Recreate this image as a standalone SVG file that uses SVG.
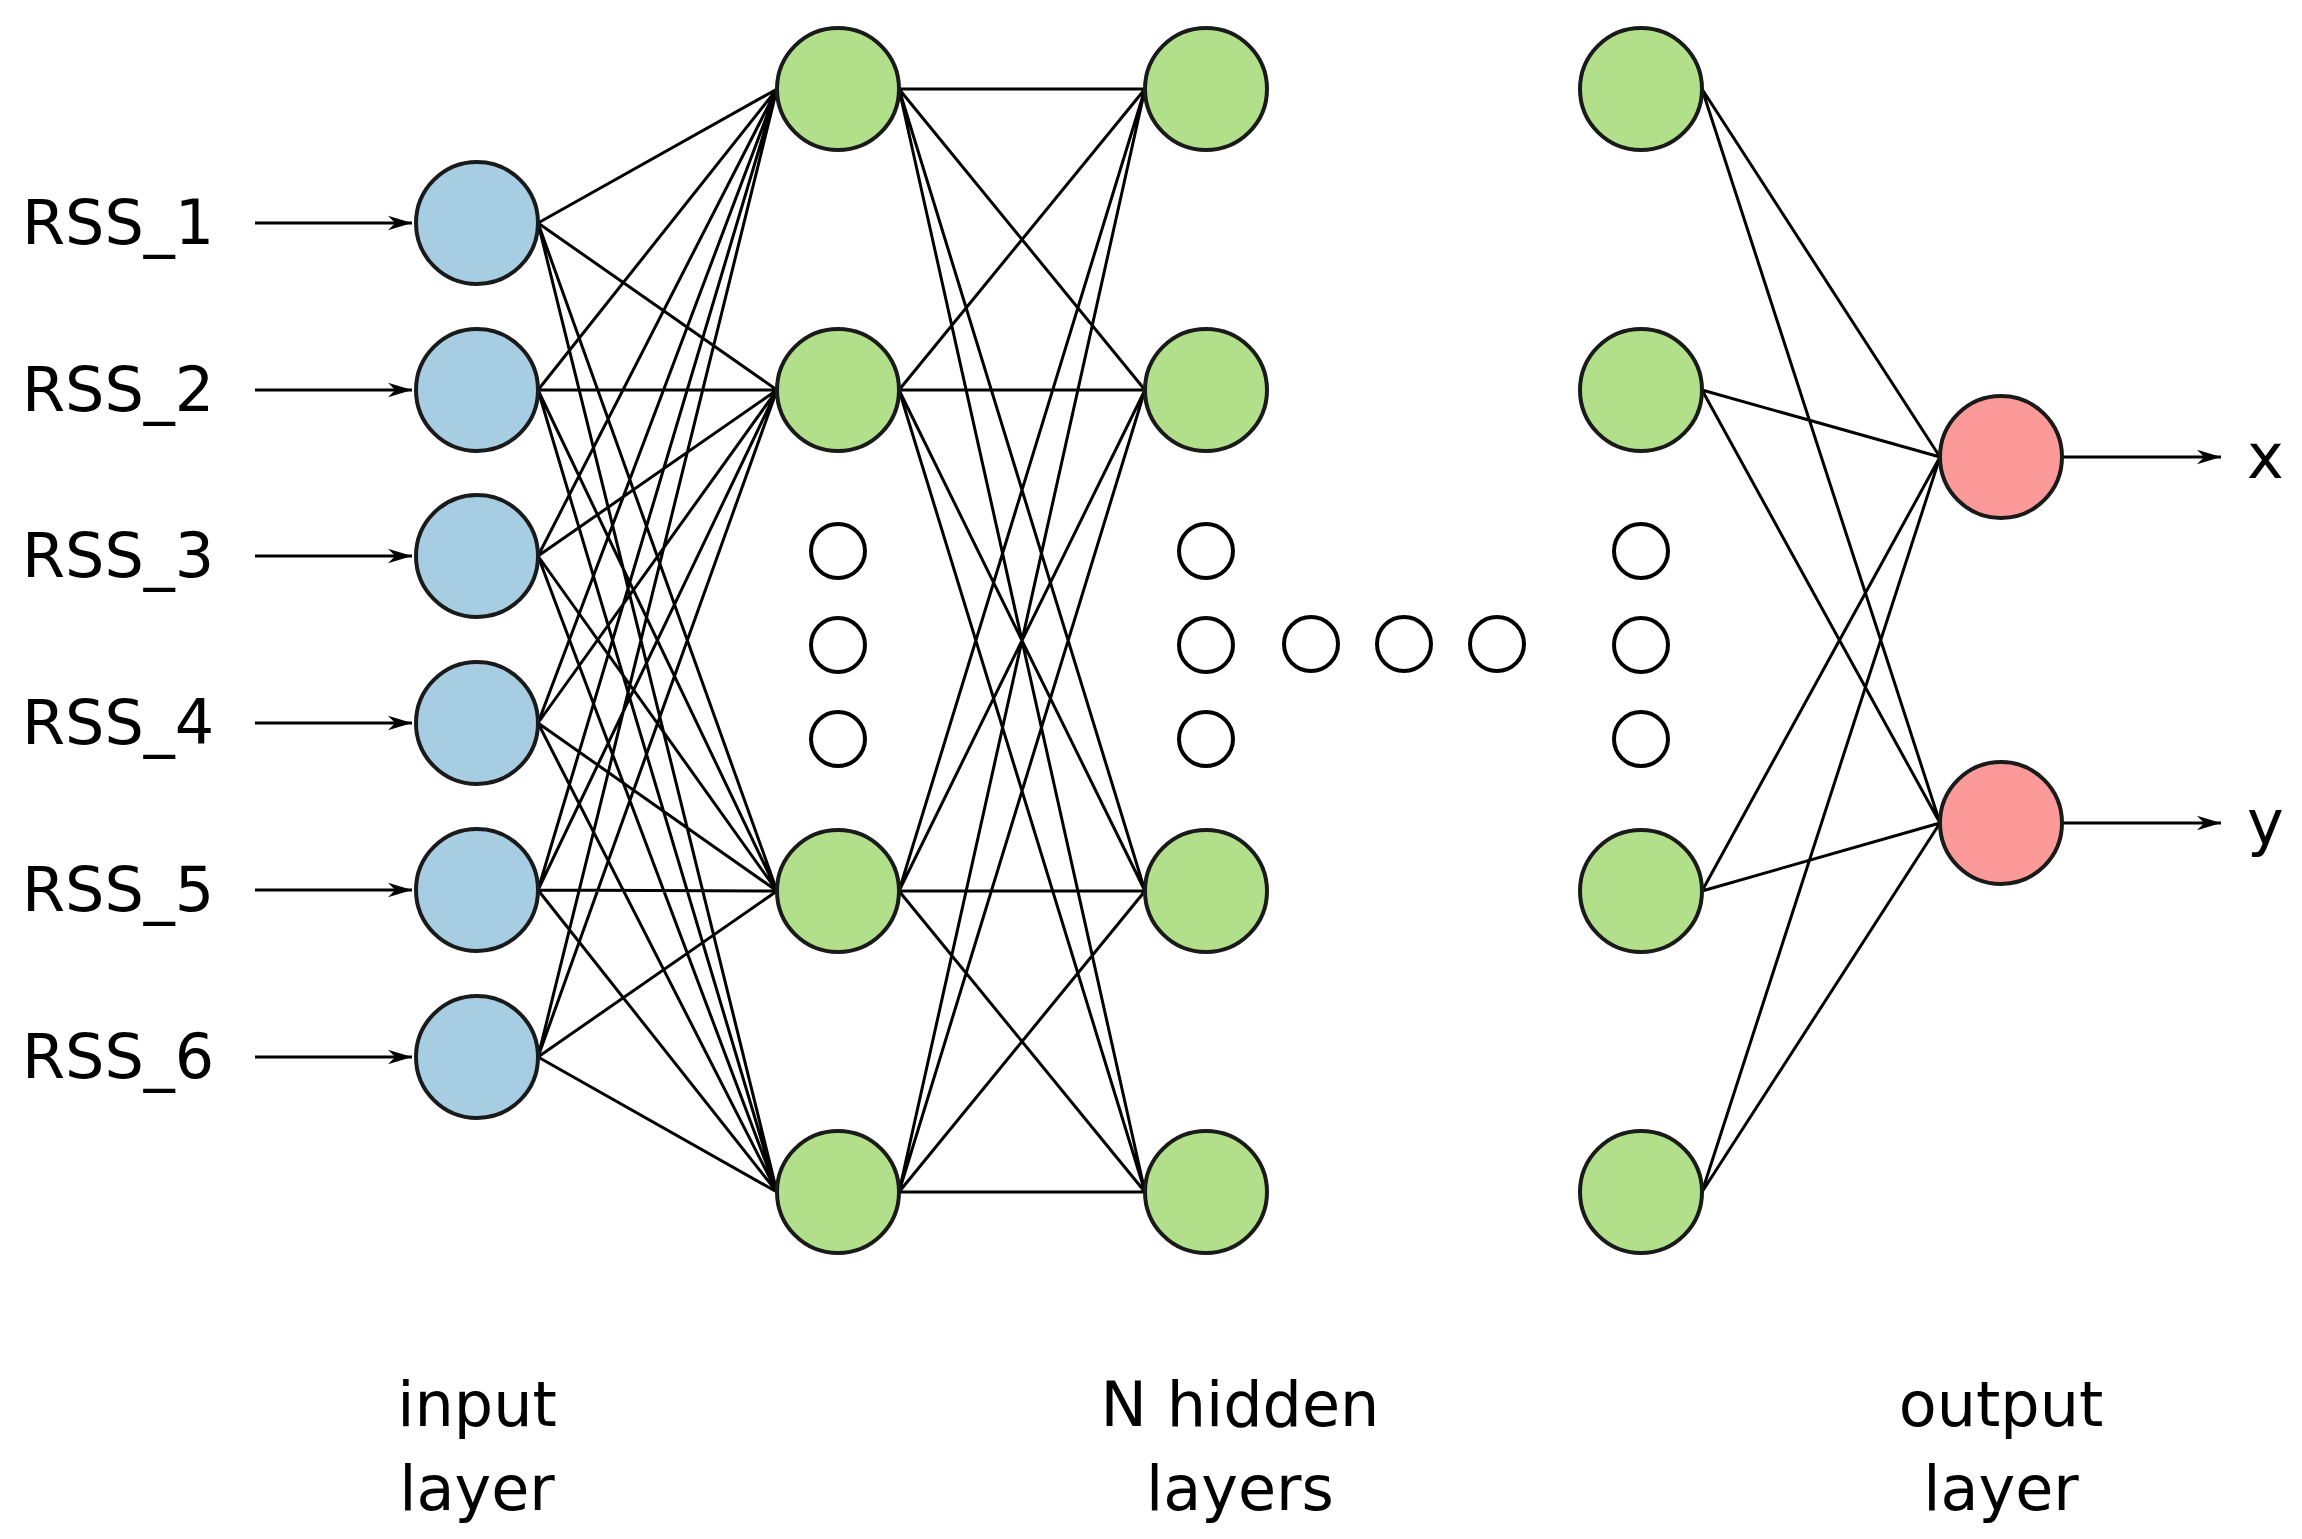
<svg xmlns="http://www.w3.org/2000/svg" width="2302" height="1539" viewBox="0 0 2302 1539">
<style>
.e{stroke:#000;stroke-width:3;fill:none}
.in{fill:#a6cde2;stroke:#1a1a1a;stroke-width:4}
.h{fill:#b2df8a;stroke:#1a1a1a;stroke-width:4}
.o{fill:#fb9a99;stroke:#1a1a1a;stroke-width:4}
.d{fill:#fff;stroke:#000;stroke-width:4}
text{font-family:"DejaVu Sans",Verdana,sans-serif;font-size:62px;fill:#000}
</style>
<defs><marker id="a" viewBox="0 0 10 10" refX="10" refY="5" markerWidth="8" markerHeight="8" markerUnits="userSpaceOnUse" orient="auto"><path d="M0,1 L10,5 L0,9 L3,5z" fill="#000"/></marker>
<marker id="b" viewBox="0 0 10 10" refX="10" refY="5" markerWidth="24" markerHeight="24" markerUnits="userSpaceOnUse" orient="auto"><path d="M0,2 L10,5 L0,8 L3,5z" fill="#000"/></marker></defs>
<g id="connectors">
<g class="e">
<path d="M538,223L777,89M538,223L777,390M538,223L777,891M538,223L777,1192
M538,390L777,89M538,390L777,390M538,390L777,891M538,390L777,1192
M538,556L777,89M538,556L777,390M538,556L777,891M538,556L777,1192
M538,723L777,89M538,723L777,390M538,723L777,891M538,723L777,1192
M538,890L777,89M538,890L777,390M538,890L777,891M538,890L777,1192
M538,1057L777,89M538,1057L777,390M538,1057L777,891M538,1057L777,1192"/>
<path d="M899,89L1145,89M899,89L1145,390M899,89L1145,891M899,89L1145,1192
M899,390L1145,89M899,390L1145,390M899,390L1145,891M899,390L1145,1192
M899,891L1145,89M899,891L1145,390M899,891L1145,891M899,891L1145,1192
M899,1192L1145,89M899,1192L1145,390M899,1192L1145,891M899,1192L1145,1192"/>
<path d="M1702,89L1940,457M1702,89L1940,823M1702,390L1940,457M1702,390L1940,823M1702,891L1940,457M1702,891L1940,823M1702,1192L1940,457M1702,1192L1940,823"/>
</g>
<g class="e">
<path d="M255,223H412" marker-end="url(#b)"/><path d="M255,390H412" marker-end="url(#b)"/><path d="M255,556H412" marker-end="url(#b)"/><path d="M255,723H412" marker-end="url(#b)"/><path d="M255,890H412" marker-end="url(#b)"/><path d="M255,1057H412" marker-end="url(#b)"/>
<path d="M2062,457H2221" marker-end="url(#b)"/><path d="M2062,823H2221" marker-end="url(#b)"/>
</g>
</g>
<g id="input">
<circle id="i1" class="in" cx="477" cy="223" r="61"/><circle id="i2" class="in" cx="477" cy="390" r="61"/><circle id="i3" class="in" cx="477" cy="556" r="61"/><circle id="i4" class="in" cx="477" cy="723" r="61"/><circle id="i5" class="in" cx="477" cy="890" r="61"/><circle id="i6" class="in" cx="477" cy="1057" r="61"/>
</g>
<g id="hidden1"><circle class="h" cx="838" cy="89" r="61"/><circle class="h" cx="838" cy="390" r="61"/><circle class="h" cx="838" cy="891" r="61"/><circle class="h" cx="838" cy="1192" r="61"/>
<circle class="d" cx="838" cy="551" r="27"/><circle class="d" cx="838" cy="645" r="27"/><circle class="d" cx="838" cy="739" r="27"/></g>
<g id="hidden2"><circle class="h" cx="1206" cy="89" r="61"/><circle class="h" cx="1206" cy="390" r="61"/><circle class="h" cx="1206" cy="891" r="61"/><circle class="h" cx="1206" cy="1192" r="61"/>
<circle class="d" cx="1206" cy="551" r="27"/><circle class="d" cx="1206" cy="645" r="27"/><circle class="d" cx="1206" cy="739" r="27"/></g>
<g id="dots"><circle class="d" cx="1311" cy="644" r="27"/><circle class="d" cx="1404" cy="644" r="27"/><circle class="d" cx="1497" cy="644" r="27"/></g>
<g id="hiddenN"><circle class="h" cx="1641" cy="89" r="61"/><circle class="h" cx="1641" cy="390" r="61"/><circle class="h" cx="1641" cy="891" r="61"/><circle class="h" cx="1641" cy="1192" r="61"/>
<circle class="d" cx="1641" cy="551" r="27"/><circle class="d" cx="1641" cy="645" r="27"/><circle class="d" cx="1641" cy="739" r="27"/></g>
<g id="output"><circle class="o" cx="2001" cy="457" r="61"/><circle class="o" cx="2001" cy="823" r="61"/></g>
<g id="labels">
<text x="22" y="244">RSS_1</text><text x="22" y="411">RSS_2</text><text x="22" y="577">RSS_3</text><text x="22" y="744">RSS_4</text><text x="22" y="911">RSS_5</text><text x="22" y="1078">RSS_6</text>
<text x="2247" y="478">x</text><text x="2247" y="844">y</text>
<g text-anchor="middle"><text x="477" y="1426">input</text><text x="477" y="1510">layer</text>
<text x="1240" y="1426">N hidden</text><text x="1240" y="1510">layers</text>
<text x="2001" y="1426">output</text><text x="2001" y="1510">layer</text></g>
</g>
</svg>
